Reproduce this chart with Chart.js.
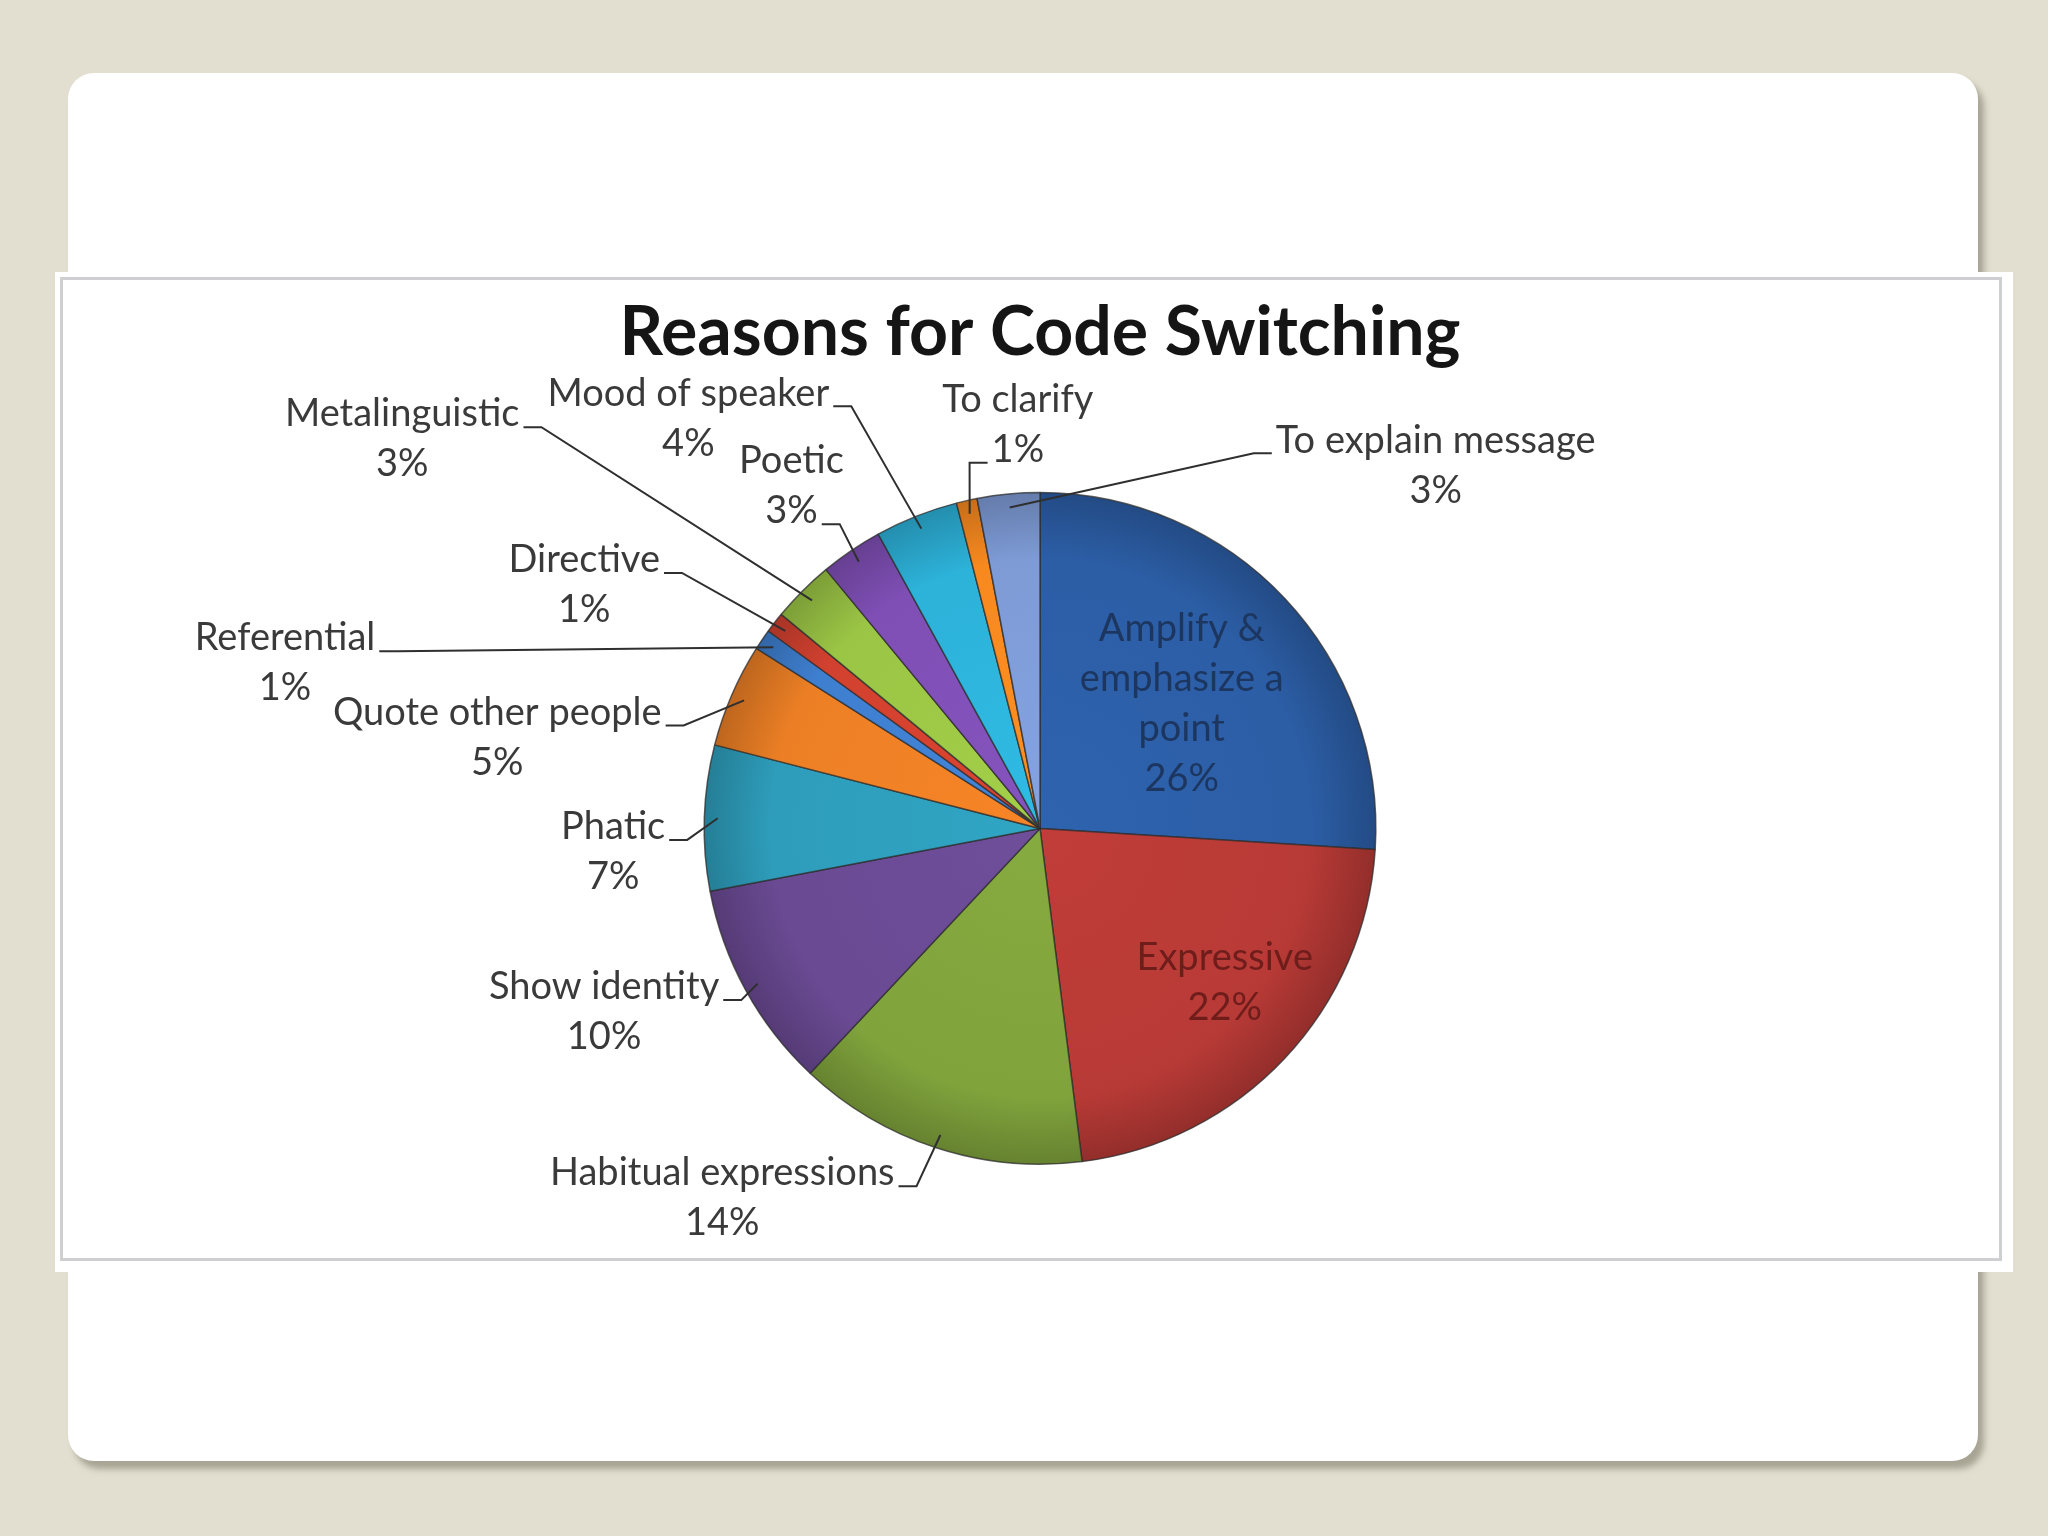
<!DOCTYPE html>
<html>
<head>
<meta charset="utf-8">
<script src="https://cdn.jsdelivr.net/npm/chart.js@4.4.1/dist/chart.umd.min.js"></script>
<style>
  html, body { margin: 0; padding: 0; overflow: hidden; }
  body { width: 2048px; height: 1536px; background: #e2dfd0; position: relative; }
  .slide-card {
    position: absolute; left: 68px; top: 73px; width: 1910px; height: 1388px;
    background: #fff; border-radius: 26px;
    box-shadow: 6px 8px 6px rgba(120, 114, 98, 0.55);
  }
  .chart-frame {
    position: absolute; left: 55px; top: 272px; width: 1948px; height: 990px;
    background: #fff; padding: 5px;
  }
  .chart-inner {
    position: relative; width: 1942px; height: 984px;
    border: 3px solid #cfcfd2; box-sizing: border-box;
  }
</style>
</head>
<body>
<div class="slide-card"></div>
<div class="chart-frame">
  <div class="chart-inner"><canvas id="pieChart"></canvas></div>
</div>
<script>
// chart values (percent), clockwise from 12 o'clock
const categories = [
  'Amplify & emphasize a point', 'Expressive', 'Habitual expressions',
  'Show identity', 'Phatic', 'Quote other people', 'Referential',
  'Directive', 'Metalinguistic', 'Poetic', 'Mood of speaker',
  'To clarify', 'To explain message'
];
const shares = [26, 22, 14, 10, 7, 5, 1, 1, 3, 3, 4, 1, 3];

const sliceColors = [
  '#2c5ea6', '#b83a36', '#80a33c', '#6a4a93', '#2e9dbb', '#ec7f25',
  '#3f7fd0', '#d2412f', '#9bc545', '#7f4fb5', '#2db2d9', '#f7891f', '#7e9bd6'
];

// where each label sits, in pie radii from the centre
const labelLayout = [
  { dx: 0.422, dy: -0.372, inside: true, color: '#1c365f' },
  { dx: 0.550, dy: 0.461, inside: true, color: '#6e1d1b' },
  { dx: -0.946, dy: 1.101 },
  { dx: -1.298, dy: 0.547 },
  { dx: -1.271, dy: 0.070 },
  { dx: -1.616, dy: -0.271 },
  { dx: -2.248, dy: -0.492 },
  { dx: -1.357, dy: -0.725 },
  { dx: -1.899, dy: -1.159 },
  { dx: -0.740, dy: -1.019, attach: 'value' },
  { dx: -1.047, dy: -1.221 },
  { dx: -0.066, dy: -1.202, attach: 'value' },
  { dx: 1.178, dy: -1.081 }
];

function shade(hex, f) {
  let n = parseInt(hex.slice(1), 16);
  let r = (n >> 16) & 255, g = (n >> 8) & 255, b = n & 255;
  r = Math.round(Math.min(255, r * f));
  g = Math.round(Math.min(255, g * f));
  b = Math.round(Math.min(255, b * f));
  return 'rgb(' + r + ',' + g + ',' + b + ')';
}

const labelFont = '38px Lato';
const lineGap = 50;

function wrap(ctx, text, maxW) {
  let words = text.split(' '), lines = [], cur = '';
  words.forEach(w => {
    let t = cur ? cur + ' ' + w : w;
    if (cur && ctx.measureText(t).width > maxW) { lines.push(cur); cur = w; }
    else cur = t;
  });
  if (cur) lines.push(cur);
  return lines;
}

const sliceLabels = {
  id: 'sliceLabels',
  afterDatasetsDraw(chart) {
    const ctx = chart.ctx;
    const meta = chart.getDatasetMeta(0);
    ctx.save();
    ctx.font = labelFont;
    ctx.textAlign = 'center';
    ctx.textBaseline = 'middle';
    meta.data.forEach((arc, i) => {
      const p = arc.getProps(['x', 'y', 'startAngle', 'endAngle', 'outerRadius'], true);
      const lay = labelLayout[i];
      const r = p.outerRadius;
      const lx = p.x + lay.dx * r, ly = p.y + lay.dy * r;
      const name = categories[i];
      const pct = shares[i] + '%';
      if (lay.inside) {
        const lines = wrap(ctx, name, 250).concat([pct]);
        ctx.fillStyle = lay.color;
        const top = ly - (lines.length - 1) * lineGap / 2;
        lines.forEach((ln, k) => ctx.fillText(ln, lx, top + k * lineGap));
        return;
      }
      const nameY = ly - lineGap / 2, valY = ly + lineGap / 2;
      ctx.fillStyle = '#3a3a3a';
      ctx.fillText(name, lx, nameY);
      ctx.fillText(pct, lx, valY);

      // leader line
      const mid = (p.startAngle + p.endAngle) / 2;
      const ax = p.x + Math.cos(mid) * r * 0.96;
      const ay = p.y + Math.sin(mid) * r * 0.96;
      const useVal = lay.attach === 'value';
      const w = ctx.measureText(useVal ? pct : name).width;
      const ty = (useVal ? valY : nameY) + 13;
      let sx, stub;
      if (lx < ax) { sx = lx + w / 2 + 4; stub = 18; }
      else { sx = lx - w / 2 - 4; stub = -18; }
      ctx.strokeStyle = '#2f2f2f';
      ctx.lineWidth = 2;
      ctx.beginPath();
      ctx.moveTo(sx, ty);
      ctx.lineTo(sx + stub, ty);
      ctx.lineTo(ax, ay);
      ctx.stroke();
    });
    ctx.restore();
  }
};

new Chart(document.getElementById('pieChart'), {
  type: 'pie',
  data: {
    labels: categories,
    datasets: [{
      data: shares,
      backgroundColor(c) {
        const base = sliceColors[c.dataIndex];
        const a = c.chart.chartArea;
        if (!a) return base;
        const cx = (a.left + a.right) / 2, cy = (a.top + a.bottom) / 2;
        const rad = Math.min(a.right - a.left, a.bottom - a.top) / 2;
        const g = c.chart.ctx.createRadialGradient(cx, cy, 0, cx, cy, rad);
        g.addColorStop(0, shade(base, 1.05));
        g.addColorStop(0.8, base);
        g.addColorStop(1, shade(base, 0.8));
        return g;
      },
      borderColor: 'rgba(45,45,45,0.75)',
      borderWidth: 1.5
    }]
  },
  options: {
    responsive: true,
    maintainAspectRatio: false,
    animation: false,
    devicePixelRatio: 1,
    layout: { padding: { left: 18, right: 0, top: 0, bottom: 93 } },
    plugins: {
      legend: { display: false },
      tooltip: { enabled: false },
      title: {
        display: true,
        text: 'Reasons for Code Switching',
        color: '#151515',
        font: { family: 'Lato', size: 68, weight: 'bold', lineHeight: 1.1 },
        padding: { top: 16, bottom: 121 }
      }
    }
  },
  plugins: [sliceLabels]
});
</script>
</body>
</html>
